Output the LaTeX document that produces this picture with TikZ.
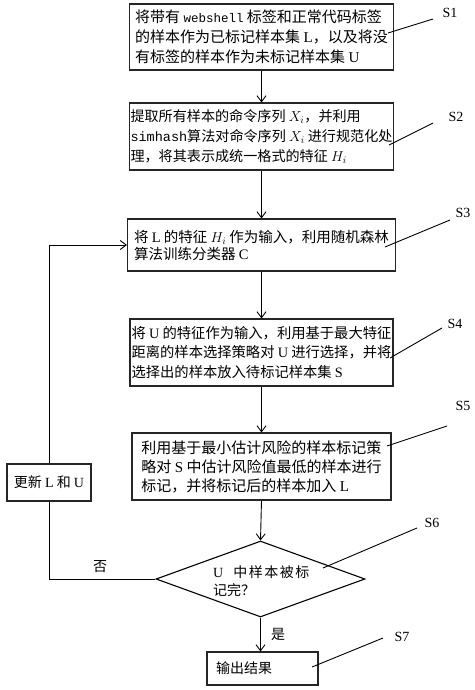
\documentclass[tikz,border=0pt]{standalone}
\usepackage{fontspec}
\setmainfont{Noto Sans CJK SC}
\newfontfamily\latf{Liberation Serif}
\newfontfamily\monof{Liberation Mono}
\usetikzlibrary{arrows.meta,shapes.geometric}
\newcommand\Lr[1]{{\latf #1}}
\newcommand\Mono[2]{{\monof\fontsize{#1}{#1}\selectfont #2}}
\begin{document}
\begin{tikzpicture}[x=1pt,y=-1pt,
  box/.style={draw=black!85, line width=1.1pt, align=left, inner sep=0pt},
  arr/.style={line width=0.9pt, -{Straight Barb[length=6pt,width=9pt,line width=0.9pt]}},
  lead/.style={line width=0.9pt},
  lab/.style={font=\latf\fontsize{14}{14}\selectfont, inner sep=0pt},
  txt/.style={inner sep=0pt, align=left}]
\useasboundingbox[fill=white] (0,0) rectangle (474,690);

% process boxes
\node[box, minimum width=264pt, minimum height=66pt,
  font=\fontsize{15}{20}\selectfont] (s1) at (261.5,37)
  {将带有 \Mono{12.5}{webshell} 标签和正常代码标签\\的样本作为已标记样本集 \Lr{L}，以及将没\\有标签的样本作为未标记样本集 \Lr{U}};
\node[box, minimum width=264pt, minimum height=67pt,
  font=\fontsize{14.1}{20}\selectfont] (s2) at (261.5,136.5)
  {提取所有样本的命令序列 $X_i$，并利用\\\Mono{13.5}{simhash}算法对命令序列 $X_i$ 进行规范化处\\理，将其表示成统一格式的特征 $H_i$};
\node[box, minimum width=268pt, minimum height=52pt,
  font=\fontsize{14.5}{17}\selectfont] (s3) at (261.5,245)
  {将 \Lr{L} 的特征 $H_i$ 作为输入，利用随机森林\\算法训练分类器 \Lr{C}};
\node[box, minimum width=263pt, minimum height=67pt,
  font=\fontsize{14.3}{19.5}\selectfont] (s4) at (261.5,352.5)
  {将 \Lr{U} 的特征作为输入，利用基于最大特征\\距离的样本选择策略对 \Lr{U} 进行选择，并将\\选择出的样本放入待标记样本集 \Lr{S}};
\node[box, minimum width=259pt, minimum height=67pt,
  font=\fontsize{15}{19}\selectfont] (s5) at (261.5,466.5)
  {利用基于最小估计风险的样本标记策\\略对 \Lr{S} 中估计风险值最低的样本进行\\标记，并将标记后的样本加入 \Lr{L}};
\node[box, minimum width=84pt, minimum height=37pt,
  font=\fontsize{14}{16}\selectfont] (upd) at (49,482.5)
  {更新 \Lr{L} 和 \Lr{U}};
\node[draw=black, line width=1.1pt, diamond, minimum width=209pt, minimum height=76pt,
  inner sep=0pt] (q6) at (260.5,579) {};
\node[txt, anchor=west, font=\fontsize{14}{18}\selectfont] (q6t) at (213,581)
  {\Lr{U}\hspace{10pt}中\hspace{1.5pt}样\hspace{1.5pt}本\hspace{1.5pt}被\hspace{1.5pt}标\\记完？};
\node[box, minimum width=111pt, minimum height=33pt,
  font=\fontsize{14}{16}\selectfont] (s7) at (262.5,668.5) {输出结果\hspace{37pt}};

% main flow
\draw[arr] (s1.south) -- (s2.north);
\draw[arr] (s2.south) -- (s3.north);
\draw[arr] (s3.south) -- (s4.north);
\draw[arr] (s4.south) -- (s5.north);
\draw[arr] (s5.south) -- (q6.north);
\draw[arr] (q6.south) -- (q6.south |- s7.north);
\node[txt, font=\fontsize{14}{14}\selectfont] (yes) at (278,634) {是};

% loop back
\draw[lead] (q6.west) -| (upd.south);
\draw[arr] (upd.north) |- (s3.west);
\node[txt, font=\fontsize{14}{14}\selectfont] (no) at (100,567) {否};

% step labels and leaders
\node[lab] (l1) at (450,13) {S1};
\node[lab] (l2) at (456,117) {S2};
\node[lab] (l3) at (463,213) {S3};
\node[lab] (l4) at (455,324) {S4};
\node[lab] (l5) at (463,406) {S5};
\node[lab] (l6) at (432,523) {S6};
\node[lab] (l7) at (402,637) {S7};
\coordinate (a1) at (388,33);  \coordinate (b1) at (433,19);
\coordinate (a2) at (389,145); \coordinate (b2) at (433,123);
\coordinate (a3) at (385,247); \coordinate (b3) at (450,220);
\coordinate (a4) at (390,358); \coordinate (b4) at (442,328);
\coordinate (a5) at (387,446); \coordinate (b5) at (447,426);
\coordinate (a6) at (323,568); \coordinate (b6) at (417,528);
\coordinate (a7) at (312,667); \coordinate (b7) at (383,638);
\foreach \i in {1,...,7} {\draw[lead] (a\i) -- (b\i);}
\end{tikzpicture}
\end{document}
